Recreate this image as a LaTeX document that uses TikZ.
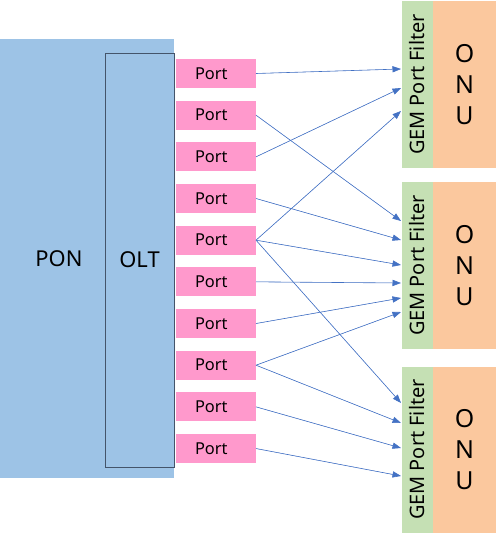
\documentclass[tikz,border=0pt]{standalone}
\usepackage{fontspec}
\setmainfont{Noto Sans}
\usetikzlibrary{arrows.meta}
\definecolor{ponblue}{HTML}{9DC3E6}
\definecolor{oltline}{HTML}{44546A}
\definecolor{portpink}{HTML}{FF99CC}
\definecolor{gemgreen}{HTML}{C5E0B4}
\definecolor{onuorange}{HTML}{FBC89E}
\definecolor{linkblue}{HTML}{4472C4}

\begin{document}
\begin{tikzpicture}[
  x=1bp, y=-1bp,
  block/.style={inner sep=0pt, outer sep=0pt},
  port/.style={block, fill=portpink, minimum width=80bp, minimum height=29bp, text width=42bp, align=left, font=\fontsize{16.5}{19}\selectfont},
  gem/.style={block, fill=gemgreen, minimum width=31bp, minimum height=166bp, font=\fontsize{20}{22}\selectfont},
  onu/.style={block, fill=onuorange, minimum width=63bp, minimum height=166bp, align=center, font=\fontsize{25}{31}\selectfont},
  arrow/.style={-{Triangle[length=3mm, width=2.2mm]}, draw=linkblue, fill=linkblue, line width=0.6pt}
]
\useasboundingbox (0,0) rectangle (496,535);

% head end
\node[block, fill=ponblue, minimum width=174bp, minimum height=439bp] (pon) at (87,258.5) {};
\node[font=\fontsize{22}{26}\selectfont] (ponlabel) at (59,259) {PON};
\node[block, draw=oltline, line width=0.8pt, minimum width=69bp, minimum height=414bp, font=\fontsize{22}{26}\selectfont] (olt) at (139.5,260) {OLT};

% ports
\foreach \i in {1,...,10}
  \node[port] (p\i) at (216,{73.5+41.67*(\i-1)}) {Port};

% onus with their filters
\foreach \i/\yc in {1/84.5, 2/265.5, 3/449.5} {
  \node[gem] (gem\i) at (417.5,\yc) {\rotatebox{90}{GEM Port Filter}};
  \node[onu] (onu\i) at (464.5,\yc) {O\\N\\U};
}

% arrow ends on the filters
\foreach \n/\ty in {1a/69, 1b/88, 1c/111, 2a/221, 2b/240, 2c/265, 2d/283, 2e/298, 2f/312, 3a/403, 3b/423, 3c/448, 3d/476}
  \coordinate (g\n) at (401,\ty);

\foreach \s/\t in {1/1a, 3/1b, 5/1c, 2/2a, 4/2b, 5/2c, 6/2d, 7/2e, 8/2f, 5/3a, 8/3b, 9/3c, 10/3d}
  \draw[arrow] (p\s.east) -- (g\t);
\end{tikzpicture}
\end{document}
